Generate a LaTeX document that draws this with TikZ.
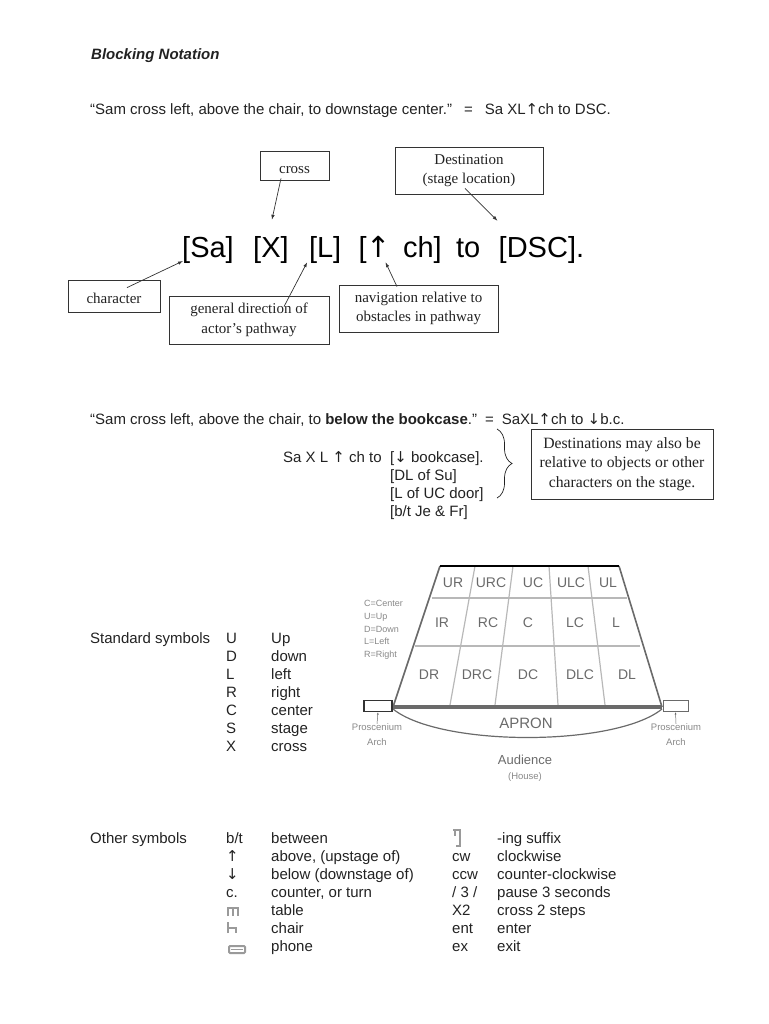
\documentclass[tikz,border=0pt]{standalone}
\usepackage{fontspec}
\setmainfont{Liberation Sans}
\newfontfamily\boxfont{Liberation Serif}
\newfontfamily\arrowfont{DejaVu Sans}
\usetikzlibrary{arrows.meta,positioning,decorations.pathreplacing}
\definecolor{inkgray}{HTML}{222222}
\definecolor{stagegray}{HTML}{6A6A6A}
\definecolor{gridgray}{HTML}{B8B8B8}
\definecolor{iconWash}{HTML}{9A9A9A}
\newcommand{\upsym}{{\arrowfont ↑}}
\newcommand{\downsym}{{\arrowfont ↓}}

\begin{document}
\begin{tikzpicture}[
    x=1pt, y=-1pt, >={Latex[length=5pt,width=3.5pt]}, node distance=14pt,
    txt/.style={anchor=base west,inner sep=0pt,text=inkgray,font=\fontsize{15}{18}\selectfont},
    bigword/.style={inner sep=0pt,text=black,font=\fontsize{29}{32}\selectfont},
    callout/.style={draw=black!80,line width=0.8pt,align=center,inner sep=0pt,
                    text=inkgray,font=\boxfont\fontsize{15}{19.5}\selectfont,
                    execute at begin node={\rule{0pt}{16pt}}},
    oneline/.style={execute at begin node={\rule{0pt}{11pt}}},
    pointer/.style={->,line width=0.7pt,black!80},
    cell/.style={inner sep=0pt,text=stagegray,font=\fontsize{14}{16}\selectfont},
    tiny/.style={inner sep=0pt,align=center,text=stagegray!80,font=\fontsize{9.5}{15}\selectfont},
    grid/.style={gridgray,line width=1.2pt}
  ]
    \useasboundingbox (0,0) rectangle (768,1024);

    % heading and first sentence
    \node[txt,font=\fontsize{15}{18}\selectfont\bfseries\itshape] (title) at (91,60) {Blocking Notation};
    \node[txt] (first) at (90,115) {“Sam cross left, above the chair, to downstage center.”\hspace{12pt}=\hspace{12pt}Sa XL\upsym ch to DSC.};

    % the big line
    \node[bigword,anchor=base west] (sa) at (182,257) {[Sa]};
    \node[bigword,base right=19pt of sa] (xx) {[X]};
    \node[bigword,base right=20pt of xx] (ll) {[L]};
    \node[bigword,base right=17pt of ll] (nav) {[\upsym\hspace{12pt}ch]};
    \node[bigword,base right=14pt of nav] (to) {to};
    \node[bigword,base right=18pt of to] (dsc) {[DSC].};

    \node[callout,oneline,minimum width=69pt,minimum height=29pt] (cross) at (294.5,165.5) {cross};
    \node[callout,minimum width=148pt,minimum height=47pt] (dest) at (469,170.5) {Destination\\(stage location)};
    \node[callout,oneline,minimum width=92pt,minimum height=32pt] (char) at (114,296) {character};
    \node[callout,minimum width=160pt,minimum height=48pt] (path) at (249,320) {general direction of\\actor’s pathway};
    \node[callout,minimum width=159pt,minimum height=47pt] (obst) at (418.5,308.5) {navigation relative to\\obstacles in pathway};

    \draw[pointer] ([xshift=-13.5pt,yshift=2pt]cross.south) -- ([xshift=1pt,yshift=16pt]xx.north);
    \draw[pointer] ([xshift=-4pt,yshift=6pt]dest.south) -- ([xshift=-1pt,yshift=15pt]dsc.north west);
    \draw[pointer] ([xshift=13pt,yshift=-8pt]char.north) -- ([xshift=1pt,yshift=-11.5pt]sa.west);
    \draw[pointer] ([xshift=35pt,yshift=-11pt]path.north) -- ([xshift=-18pt,yshift=1pt]ll.south);
    \draw[pointer] ([xshift=-21.5pt,yshift=-2pt]obst.north) -- ([xshift=27pt,yshift=1pt]nav.south west);

    % second sentence
    \node[txt] (second) at (90,424) {“Sam cross left, above the chair, to \textbf{below the bookcase}.”\hspace{8pt}=\hspace{8pt}SaXL\upsym ch to \downsym b.c.};
    \node[txt] (lead) at (283,462) {Sa X L \upsym{} ch to};
    \node[txt] (dest1) at (390,462) {[\downsym{} bookcase].};
    \node[txt] (dest2) at (390,480) {[DL of Su]};
    \node[txt] (dest3) at (390,498) {[L of UC door]};
    \node[txt] (dest4) at (390,516) {[b/t Je \& Fr]};
    \draw[inkgray,line width=0.7pt,decorate,decoration={brace,amplitude=15pt}] (497,429) -- (497,498);
    \node[callout,minimum width=182pt,minimum height=70pt,font=\boxfont\fontsize{15.7}{19.5}\selectfont] (others) at (622,464)
      {Destinations may also be\\relative to objects or other\\characters on the stage.};

    % stage plan
    \draw[grid] (432,598) -- (627,598);
    \draw[grid] (415,646) -- (640,646);
    \draw[grid] (475,566) -- (450,705);
    \draw[grid] (513,566) -- (495,705);
    \draw[grid] (549,566) -- (558,705);
    \draw[grid] (588,566) -- (605,705);
    \draw[stagegray,line width=1.2pt] (393,709) .. controls (440,747) and (615,747) .. (662,709);
    \draw[stagegray,line width=1.6pt] (393,707) -- (440,566);
    \draw[stagegray,line width=1.6pt] (619,566) -- (662,707);
    \draw[black,line width=1.8pt] (440,566) -- (619,566);
    \draw[stagegray,line width=3.5pt] (393,707) -- (662,707);
    \node[draw=black!80,line width=1.2pt,minimum width=28pt,minimum height=11pt,inner sep=0pt] (archl) at (378,706) {};
    \node[draw=stagegray,line width=1pt,minimum width=25pt,minimum height=11pt,inner sep=0pt] (archr) at (675.5,706) {};

    \foreach \lbl/\px/\py in {UR/453/583,URC/491/583,UC/533/583,ULC/571/583,UL/608/583,
                              IR/442/623,RC/488/623,C/528/623,LC/575/623,L/616/623,
                              DR/429/675,DRC/477/675,DC/528/675,DLC/580/675,DL/627/675}
      \node[cell] (cell\lbl) at (\px,\py) {\lbl};

    \node[cell,font=\fontsize{15}{17}\selectfont] (apron) at (526,723) {APRON};
    \node[cell,font=\fontsize{13}{15}\selectfont] (aud) at (525,760) {Audience};
    \node[tiny,below=7pt of aud] (house) {(House)};
    \node[tiny,anchor=north west,align=left,font=\fontsize{9}{12.8}\selectfont] (keyl) at (364,600)
      {C=Center\\U=Up\\D=Down\\L=Left\\R=Right};
    \node[tiny] (procl) at (377,735) {Proscenium\\Arch};
    \node[tiny] (procr) at (676,735) {Proscenium\\Arch};
    \draw[->,stagegray,line width=0.5pt,>={Latex[length=2.5pt,width=2pt]}] (procl.north) -- (archl.south);
    \draw[->,stagegray,line width=0.5pt,>={Latex[length=2.5pt,width=2pt]}] (procr.north) -- (archr.south);

    % symbol lists
    \node[txt] (stdhead) at (90,643) {Standard symbols};
    \foreach \i/\sym/\mean in {0/U/Up,1/D/down,2/L/left,3/R/right,4/C/center,5/S/stage,6/X/cross} {
      \node[txt] (stdsym\i) at (226,643+18*\i) {\sym};
      \node[txt] (stdmean\i) at (271,643+18*\i) {\mean};
    }

    \node[txt] (othhead) at (90,843) {Other symbols};
    \foreach \i/\sym/\mean in {0/b{/}t/between,1/\upsym/{above, (upstage of)},2/\downsym/below (downstage of),3/c./{counter, or turn}} {
      \node[txt] (othsym\i) at (226,843+18*\i) {\sym};
      \node[txt] (othmean\i) at (271,843+18*\i) {\mean};
    }
    \foreach \i/\mean in {4/table,5/chair,6/phone}
      \node[txt] (othmean\i) at (271,843+18*\i) {\mean};
    \foreach \i/\sym/\mean in {1/cw/clockwise,2/ccw/counter-clockwise,3/{/ 3 /}/pause 3 seconds,4/X2/cross 2 steps,5/ent/enter,6/ex/exit} {
      \node[txt] (morsym\i) at (452,843+18*\i) {\sym};
      \node[txt] (mormean\i) at (497,843+18*\i) {\mean};
    }
    \node[txt] (mormean0) at (497,843) {-ing suffix};

    % little pictograms
    \draw[iconWash,line width=2pt] (228,916) -- (228,908) -- (238,908) -- (238,916) (233,908) -- (233,916);
    \draw[iconWash,line width=2pt] (228,933) -- (228,922) (228,928) -- (236,928) -- (236,933);
    \draw[iconWash,line width=2pt,rounded corners=1pt] (229,946) rectangle (245,953);
    \draw[iconWash,line width=1.2pt] (231,949.5) -- (243,949.5);
    \draw[iconWash,line width=1.6pt] (453,830) -- (460,830) -- (460,846) -- (456,846) (455,830) -- (455,836);
  \end{tikzpicture}
\end{document}
